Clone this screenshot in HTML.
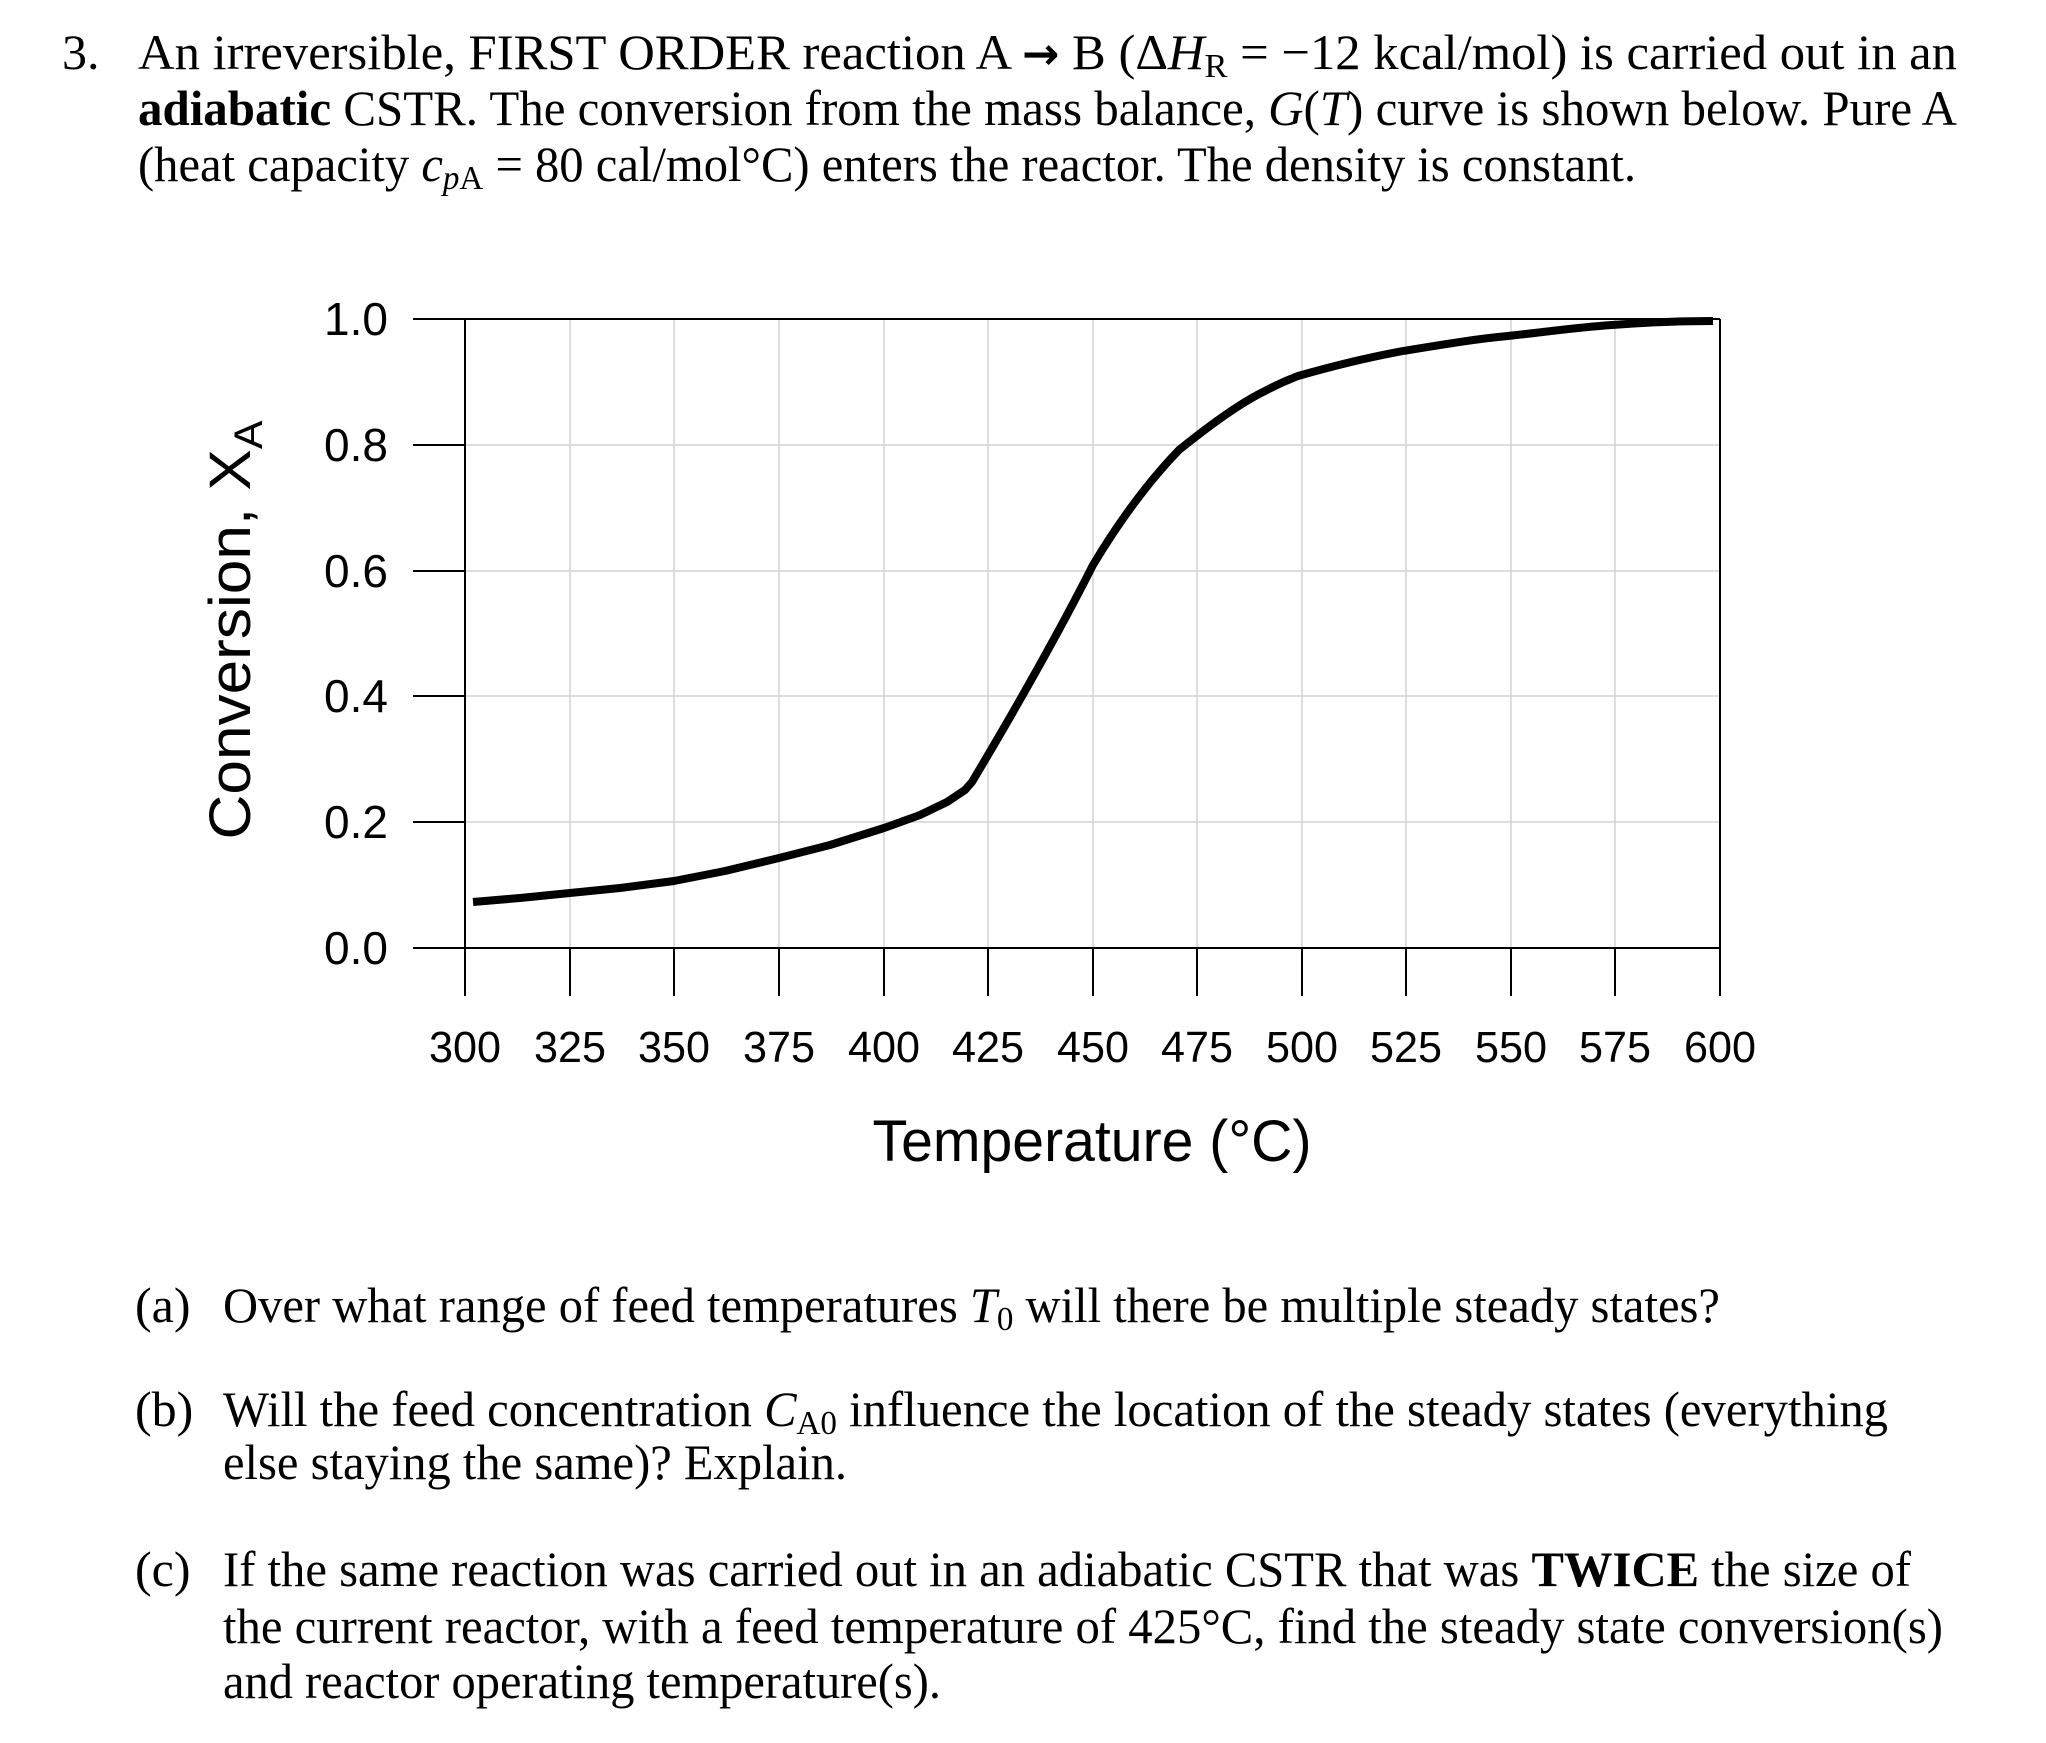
<!DOCTYPE html>
<html><head><meta charset="utf-8"><style>html,body{margin:0;padding:0;background:#fff}svg{display:block}</style></head>
<body>
<svg width="2046" height="1743" xmlns="http://www.w3.org/2000/svg">
<g font-family="Liberation Serif, serif" font-size="50" fill="#000">
<text x="62" y="69">3.</text>
<text x="138" y="69" textLength="1819" lengthAdjust="spacingAndGlyphs">An irreversible, FIRST ORDER reaction A <tspan font-family="DejaVu Sans, sans-serif" font-weight="bold" font-size="44">→</tspan> B (Δ<tspan font-style="italic">H</tspan><tspan font-size="34" dy="8">R</tspan><tspan dy="-8"> = −12 kcal/mol) is carried out in an</tspan></text>
<text x="138" y="125" textLength="1819" lengthAdjust="spacingAndGlyphs"><tspan font-weight="bold">adiabatic</tspan> CSTR. The conversion from the mass balance, <tspan font-style="italic">G</tspan>(<tspan font-style="italic">T</tspan>) curve is shown below. Pure A</text>
<text x="138" y="181" textLength="1498" lengthAdjust="spacingAndGlyphs">(heat capacity <tspan font-style="italic">c</tspan><tspan font-style="italic" font-size="34" dy="8">p</tspan><tspan font-size="34">A</tspan><tspan dy="-8"> = 80 cal/mol°C) enters the reactor. The density is constant.</tspan></text>

<text x="135" y="1322">(a)</text>
<text x="223" y="1322" textLength="1497" lengthAdjust="spacingAndGlyphs">Over what range of feed temperatures <tspan font-style="italic">T</tspan><tspan font-size="34" dy="8">0</tspan><tspan dy="-8"> will there be multiple steady states?</tspan></text>
<text x="135" y="1426">(b)</text>
<text x="223" y="1426" textLength="1665" lengthAdjust="spacingAndGlyphs">Will the feed concentration <tspan font-style="italic">C</tspan><tspan font-size="34" dy="8">A0</tspan><tspan dy="-8"> influence the location of the steady states (everything</tspan></text>
<text x="223" y="1479" textLength="624" lengthAdjust="spacingAndGlyphs">else staying the same)? Explain.</text>
<text x="135" y="1586">(c)</text>
<text x="223" y="1586" textLength="1688" lengthAdjust="spacingAndGlyphs">If the same reaction was carried out in an adiabatic CSTR that was <tspan font-weight="bold">TWICE</tspan> the size of</text>
<text x="223" y="1643" textLength="1720" lengthAdjust="spacingAndGlyphs">the current reactor, with a feed temperature of 425°C, find the steady state conversion(s)</text>
<text x="223" y="1698" textLength="718" lengthAdjust="spacingAndGlyphs">and reactor operating temperature(s).</text>
</g>

<g stroke="#d4d4d4" stroke-width="1.5">
<line x1="570" y1="319" x2="570" y2="948"/><line x1="674" y1="319" x2="674" y2="948"/><line x1="779" y1="319" x2="779" y2="948"/><line x1="884" y1="319" x2="884" y2="948"/><line x1="988" y1="319" x2="988" y2="948"/><line x1="1093" y1="319" x2="1093" y2="948"/><line x1="1197" y1="319" x2="1197" y2="948"/><line x1="1302" y1="319" x2="1302" y2="948"/><line x1="1406" y1="319" x2="1406" y2="948"/><line x1="1511" y1="319" x2="1511" y2="948"/><line x1="1615" y1="319" x2="1615" y2="948"/>
<line x1="465" y1="822" x2="1720" y2="822"/><line x1="465" y1="696" x2="1720" y2="696"/><line x1="465" y1="571" x2="1720" y2="571"/><line x1="465" y1="445" x2="1720" y2="445"/>
</g>
<g stroke="#000" stroke-width="2">
<line x1="465" y1="319" x2="465" y2="996"/>
<line x1="1720" y1="319" x2="1720" y2="996"/>
<line x1="413" y1="948" x2="1720" y2="948"/>
<line x1="413" y1="319" x2="1720" y2="319"/>
<line x1="413" y1="822" x2="465" y2="822"/><line x1="413" y1="696" x2="465" y2="696"/><line x1="413" y1="571" x2="465" y2="571"/><line x1="413" y1="445" x2="465" y2="445"/>
<line x1="570" y1="948" x2="570" y2="996"/><line x1="674" y1="948" x2="674" y2="996"/><line x1="779" y1="948" x2="779" y2="996"/><line x1="884" y1="948" x2="884" y2="996"/><line x1="988" y1="948" x2="988" y2="996"/><line x1="1093" y1="948" x2="1093" y2="996"/><line x1="1197" y1="948" x2="1197" y2="996"/><line x1="1302" y1="948" x2="1302" y2="996"/><line x1="1406" y1="948" x2="1406" y2="996"/><line x1="1511" y1="948" x2="1511" y2="996"/><line x1="1615" y1="948" x2="1615" y2="996"/>
</g>
<g font-family="Liberation Sans, sans-serif" font-size="46" fill="#000" text-anchor="end">
<text x="388" y="335">1.0</text><text x="388" y="461">0.8</text><text x="388" y="587">0.6</text><text x="388" y="712">0.4</text><text x="388" y="838">0.2</text><text x="388" y="964">0.0</text>
</g>
<g font-family="Liberation Sans, sans-serif" font-size="44" fill="#000" text-anchor="middle">
<text x="465" y="1062" textLength="72" lengthAdjust="spacingAndGlyphs">300</text><text x="570" y="1062" textLength="72" lengthAdjust="spacingAndGlyphs">325</text><text x="674" y="1062" textLength="72" lengthAdjust="spacingAndGlyphs">350</text><text x="779" y="1062" textLength="72" lengthAdjust="spacingAndGlyphs">375</text><text x="884" y="1062" textLength="72" lengthAdjust="spacingAndGlyphs">400</text><text x="988" y="1062" textLength="72" lengthAdjust="spacingAndGlyphs">425</text><text x="1093" y="1062" textLength="72" lengthAdjust="spacingAndGlyphs">450</text><text x="1197" y="1062" textLength="72" lengthAdjust="spacingAndGlyphs">475</text><text x="1302" y="1062" textLength="72" lengthAdjust="spacingAndGlyphs">500</text><text x="1406" y="1062" textLength="72" lengthAdjust="spacingAndGlyphs">525</text><text x="1511" y="1062" textLength="72" lengthAdjust="spacingAndGlyphs">550</text><text x="1615" y="1062" textLength="72" lengthAdjust="spacingAndGlyphs">575</text><text x="1720" y="1062" textLength="72" lengthAdjust="spacingAndGlyphs">600</text>
<text x="1092" y="1161" font-size="58" textLength="439" lengthAdjust="spacingAndGlyphs">Temperature (°C)</text>
</g>
<text transform="translate(250,630) rotate(-90)" font-family="Liberation Sans, sans-serif" font-size="58" text-anchor="middle" textLength="419" lengthAdjust="spacingAndGlyphs">Conversion, X<tspan font-size="40" dy="12">A</tspan></text>

<path d="M473,902 L520,898 L570,893 L620,888 L674,881 L725,871 L779,858 L830,845 L884,828 L920,815 L947,802 L965,790 L972,782 C1000,735 1050,650 1093,565 C1120,520 1150,480 1179,450 C1210,425 1240,403 1265,391 C1280,383 1290,379 1298,376 C1340,364 1370,357 1403,351 C1440,345 1475,339 1508,336 C1545,332 1580,327 1612,325 C1650,322 1690,321 1713,321" fill="none" stroke="#000" stroke-width="8" stroke-linejoin="round" stroke-linecap="butt"/>
</svg>
</body></html>
